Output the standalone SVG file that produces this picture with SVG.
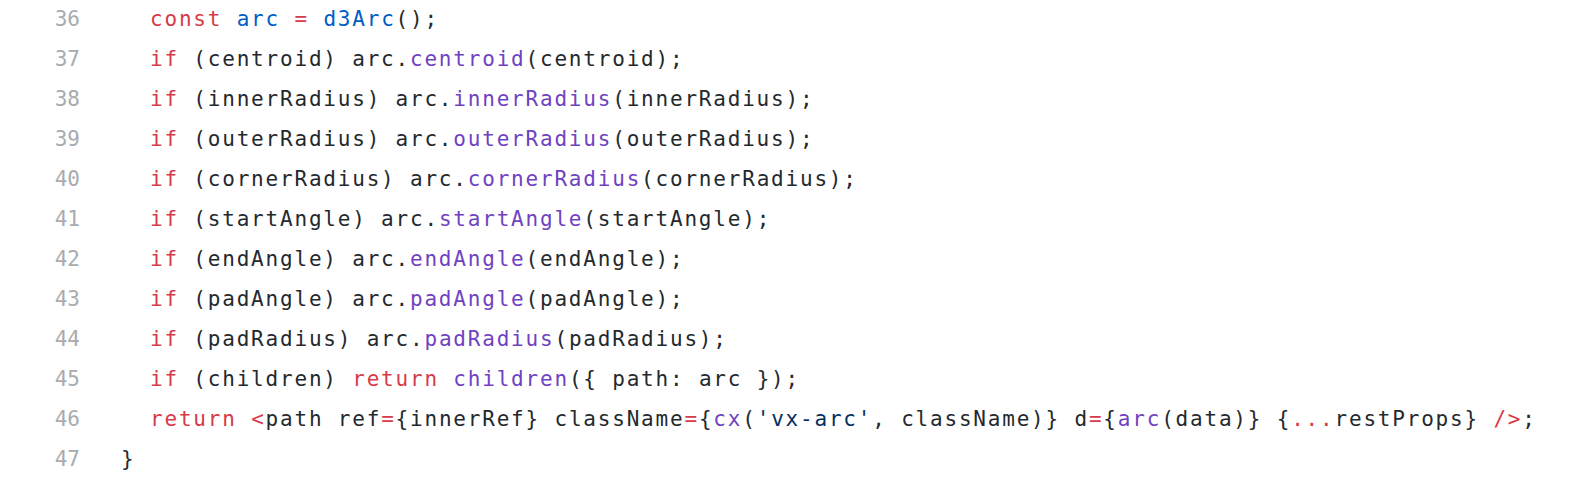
<svg xmlns="http://www.w3.org/2000/svg" width="1570" height="478" viewBox="0 0 1570 478">
<style>
text{font-family:"DejaVu Sans Mono","Liberation Mono",monospace;font-size:21px;white-space:pre;letter-spacing:1.8px}
.c{fill:#24292e}.n{fill:#a8abaf;text-anchor:end;letter-spacing:0}.k{fill:#d73a49}.f{fill:#6f42c1}.b{fill:#005cc5}.s{fill:#032f62}
</style>
<rect width="1570" height="478" fill="#fff"/>
<g id="gutter">
<text class="n" x="80" y="26">36</text><text class="n" x="80" y="66">37</text><text class="n" x="80" y="106">38</text><text class="n" x="80" y="146">39</text><text class="n" x="80" y="186">40</text><text class="n" x="80" y="226">41</text><text class="n" x="80" y="266">42</text><text class="n" x="80" y="306">43</text><text class="n" x="80" y="346">44</text><text class="n" x="80" y="386">45</text><text class="n" x="80" y="426">46</text><text class="n" x="80" y="466">47</text>
</g>
<g id="code">
<text class="c" x="150" y="26"><tspan class="k">const</tspan> <tspan class="b">arc</tspan> <tspan class="k">=</tspan> <tspan class="b">d3Arc</tspan>();</text>
<text class="c" x="150" y="66"><tspan class="k">if</tspan> (centroid) arc.<tspan class="f">centroid</tspan>(centroid);</text>
<text class="c" x="150" y="106"><tspan class="k">if</tspan> (innerRadius) arc.<tspan class="f">innerRadius</tspan>(innerRadius);</text>
<text class="c" x="150" y="146"><tspan class="k">if</tspan> (outerRadius) arc.<tspan class="f">outerRadius</tspan>(outerRadius);</text>
<text class="c" x="150" y="186"><tspan class="k">if</tspan> (cornerRadius) arc.<tspan class="f">cornerRadius</tspan>(cornerRadius);</text>
<text class="c" x="150" y="226"><tspan class="k">if</tspan> (startAngle) arc.<tspan class="f">startAngle</tspan>(startAngle);</text>
<text class="c" x="150" y="266"><tspan class="k">if</tspan> (endAngle) arc.<tspan class="f">endAngle</tspan>(endAngle);</text>
<text class="c" x="150" y="306"><tspan class="k">if</tspan> (padAngle) arc.<tspan class="f">padAngle</tspan>(padAngle);</text>
<text class="c" x="150" y="346"><tspan class="k">if</tspan> (padRadius) arc.<tspan class="f">padRadius</tspan>(padRadius);</text>
<text class="c" x="150" y="386"><tspan class="k">if</tspan> (children) <tspan class="k">return</tspan> <tspan class="f">children</tspan>({ path: arc });</text>
<text class="c" x="150" y="426"><tspan class="k">return</tspan> <tspan class="k">&lt;</tspan>path ref<tspan class="k">=</tspan>{innerRef} className<tspan class="k">=</tspan>{<tspan class="f">cx</tspan>(<tspan class="s">'vx-arc'</tspan>, className)} d<tspan class="k">=</tspan>{<tspan class="f">arc</tspan>(data)} {<tspan class="k">...</tspan>restProps} <tspan class="k">/&gt;</tspan>;</text>
<text class="c" x="121" y="466">}</text>
</g>
</svg>
